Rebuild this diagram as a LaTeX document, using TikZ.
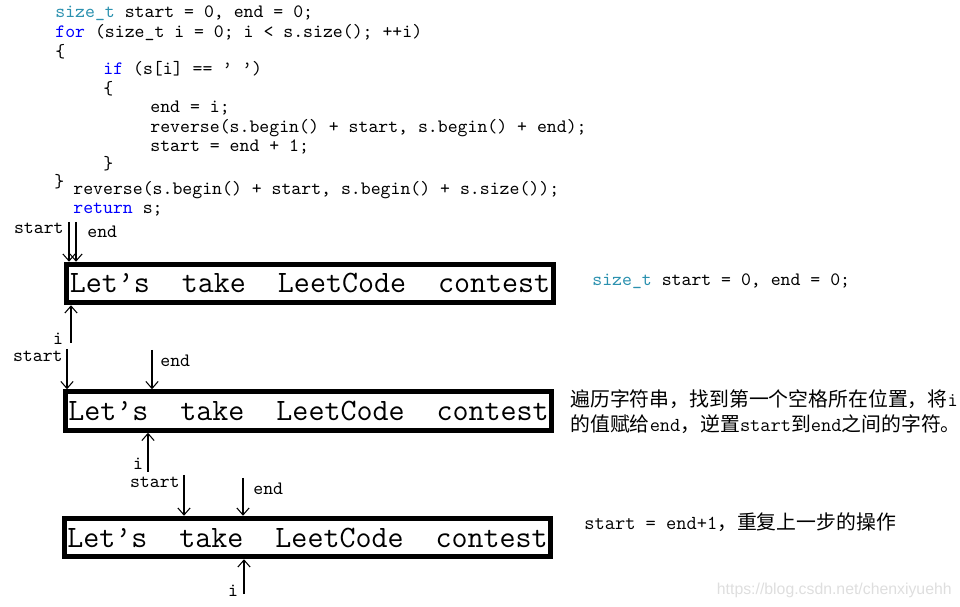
\documentclass[tikz,border=0pt]{standalone}
\usepackage{fontspec}
\usepackage{tikz}
\usetikzlibrary{arrows.meta}
\newfontfamily\cjk{Noto Sans CJK SC}
\newfontfamily\wmfont{Liberation Sans}
\definecolor{kwblue}{RGB}{0,0,255}
\definecolor{typeteal}{RGB}{43,145,175}
\newcommand{\codefont}{\ttfamily\frenchspacing\fontsize{10.75}{12}\selectfont}
\newcommand{\strfont}{\ttfamily\fontsize{17.7}{20}\selectfont}
\newcommand{\zhfont}{\fontsize{11.3}{13}\selectfont}
\newcommand{\kw}[1]{\textcolor{kwblue}{#1}}
\newcommand{\ty}[1]{\textcolor{typeteal}{#1}}
\newcommand{\zh}[1]{{\cjk #1}}

\begin{document}
\begin{tikzpicture}[x=0.02cm,y=-0.02cm,>={Straight Barb[length=4pt,width=7pt]},
  code/.style={anchor=base west,inner sep=0pt,font=\codefont},
  strbox/.style={draw,line width=0.1cm,inner sep=0pt,minimum width=9.74cm,minimum height=0.77cm,font=\strfont},
  ptr/.style={->,line width=0.6pt},
  lbl/.style={inner sep=0pt,font=\codefont}]

\useasboundingbox (0,0) rectangle (960,607);

% the code
\node[code] (c1)  at (55,18)  {\ty{size\_t} start = 0, end = 0;};
\node[code] (c2)  at (55,38)  {\kw{for} (size\_t i = 0; i < s.size(); ++i)};
\node[code] (c3)  at (55,58)  {\{};
\node[code] (c4)  at (103,75) {\kw{if} (s[i] == ’~’)};
\node[code] (c5)  at (103,95) {\{};
\node[code] (c6)  at (150,113) {end = i;};
\node[code] (c7)  at (150,133) {reverse(s.begin() + start, s.begin() + end);};
\node[code] (c8)  at (150,152) {start = end + 1;};
\node[code] (c9)  at (103,170) {\}};
\node[code] (c10) at (54,188) {\}};
\node[code] (c11) at (73,195) {reverse(s.begin() + start, s.begin() + s.size());};
\node[code] (c12) at (73,214) {\kw{return} s;};

% the three strings
\node[strbox] (box1) at (310,283.5) {Let’s~~take~~LeetCode~~contest};
\node[strbox] (box2) at (308.5,411) {Let’s~~take~~LeetCode~~contest};
\node[strbox] (box3) at (307.5,537.5) {Let’s~~take~~LeetCode~~contest};

% step 1
\coordinate (s1) at (69,222);
\coordinate (e1) at (76,222);
\coordinate (i1) at (71,343);
\draw[ptr] (s1) -- (s1 |- box1.north);
\draw[ptr] (e1) -- (e1 |- box1.north);
\draw[ptr] (i1) -- (i1 |- box1.south);
\node[lbl,anchor=base east] (s1lbl) at (64,234) {start};
\node[lbl,anchor=base west] (e1lbl) at (87,238) {end};
\node[lbl] (i1lbl) at (58,339) {i};

% step 2
\coordinate (s2) at (67,349);
\coordinate (e2) at (152,350);
\coordinate (i2) at (148,472);
\draw[ptr] (s2) -- (s2 |- box2.north);
\draw[ptr] (e2) -- (e2 |- box2.north);
\draw[ptr] (i2) -- (i2 |- box2.south);
\node[lbl,anchor=base east] (s2lbl) at (63,362) {start};
\node[lbl,anchor=base west] (e2lbl) at (160,367) {end};
\node[lbl] (i2lbl) at (138,464) {i};

% step 3
\coordinate (s3) at (184,475);
\coordinate (e3) at (243,478);
\coordinate (i3) at (244,594);
\draw[ptr] (s3) -- (s3 |- box3.north);
\draw[ptr] (e3) -- (e3 |- box3.north);
\draw[ptr] (i3) -- (i3 |- box3.south);
\node[lbl,anchor=base east] (s3lbl) at (180,488) {start};
\node[lbl,anchor=base west] (e3lbl) at (253,495) {end};
\node[lbl] (i3lbl) at (233,591) {i};

% notes on the right
\node[code] (n1) at (592,286) {\ty{size\_t} start = 0, end = 0;};
\node[code,font=\zhfont\ttfamily] (n2) at (570,407) {\zh{遍历字符串，找到第一个空格所在位置，将}i};
\node[code,font=\zhfont\ttfamily] (n3) at (570,432) {\zh{的值赋给}end\zh{，逆置}start\zh{到}end\zh{之间的字符。}};
\node[code,font=\zhfont\ttfamily] (n4) at (584,530) {start = end+1\zh{，重复上一步的操作}};

\node[anchor=east,inner sep=0pt,font=\wmfont\fontsize{9}{10}\selectfont,text=black!13] (wm) at (952,590) {https://blog.csdn.net/chenxiyuehh};

\end{tikzpicture}
\end{document}
